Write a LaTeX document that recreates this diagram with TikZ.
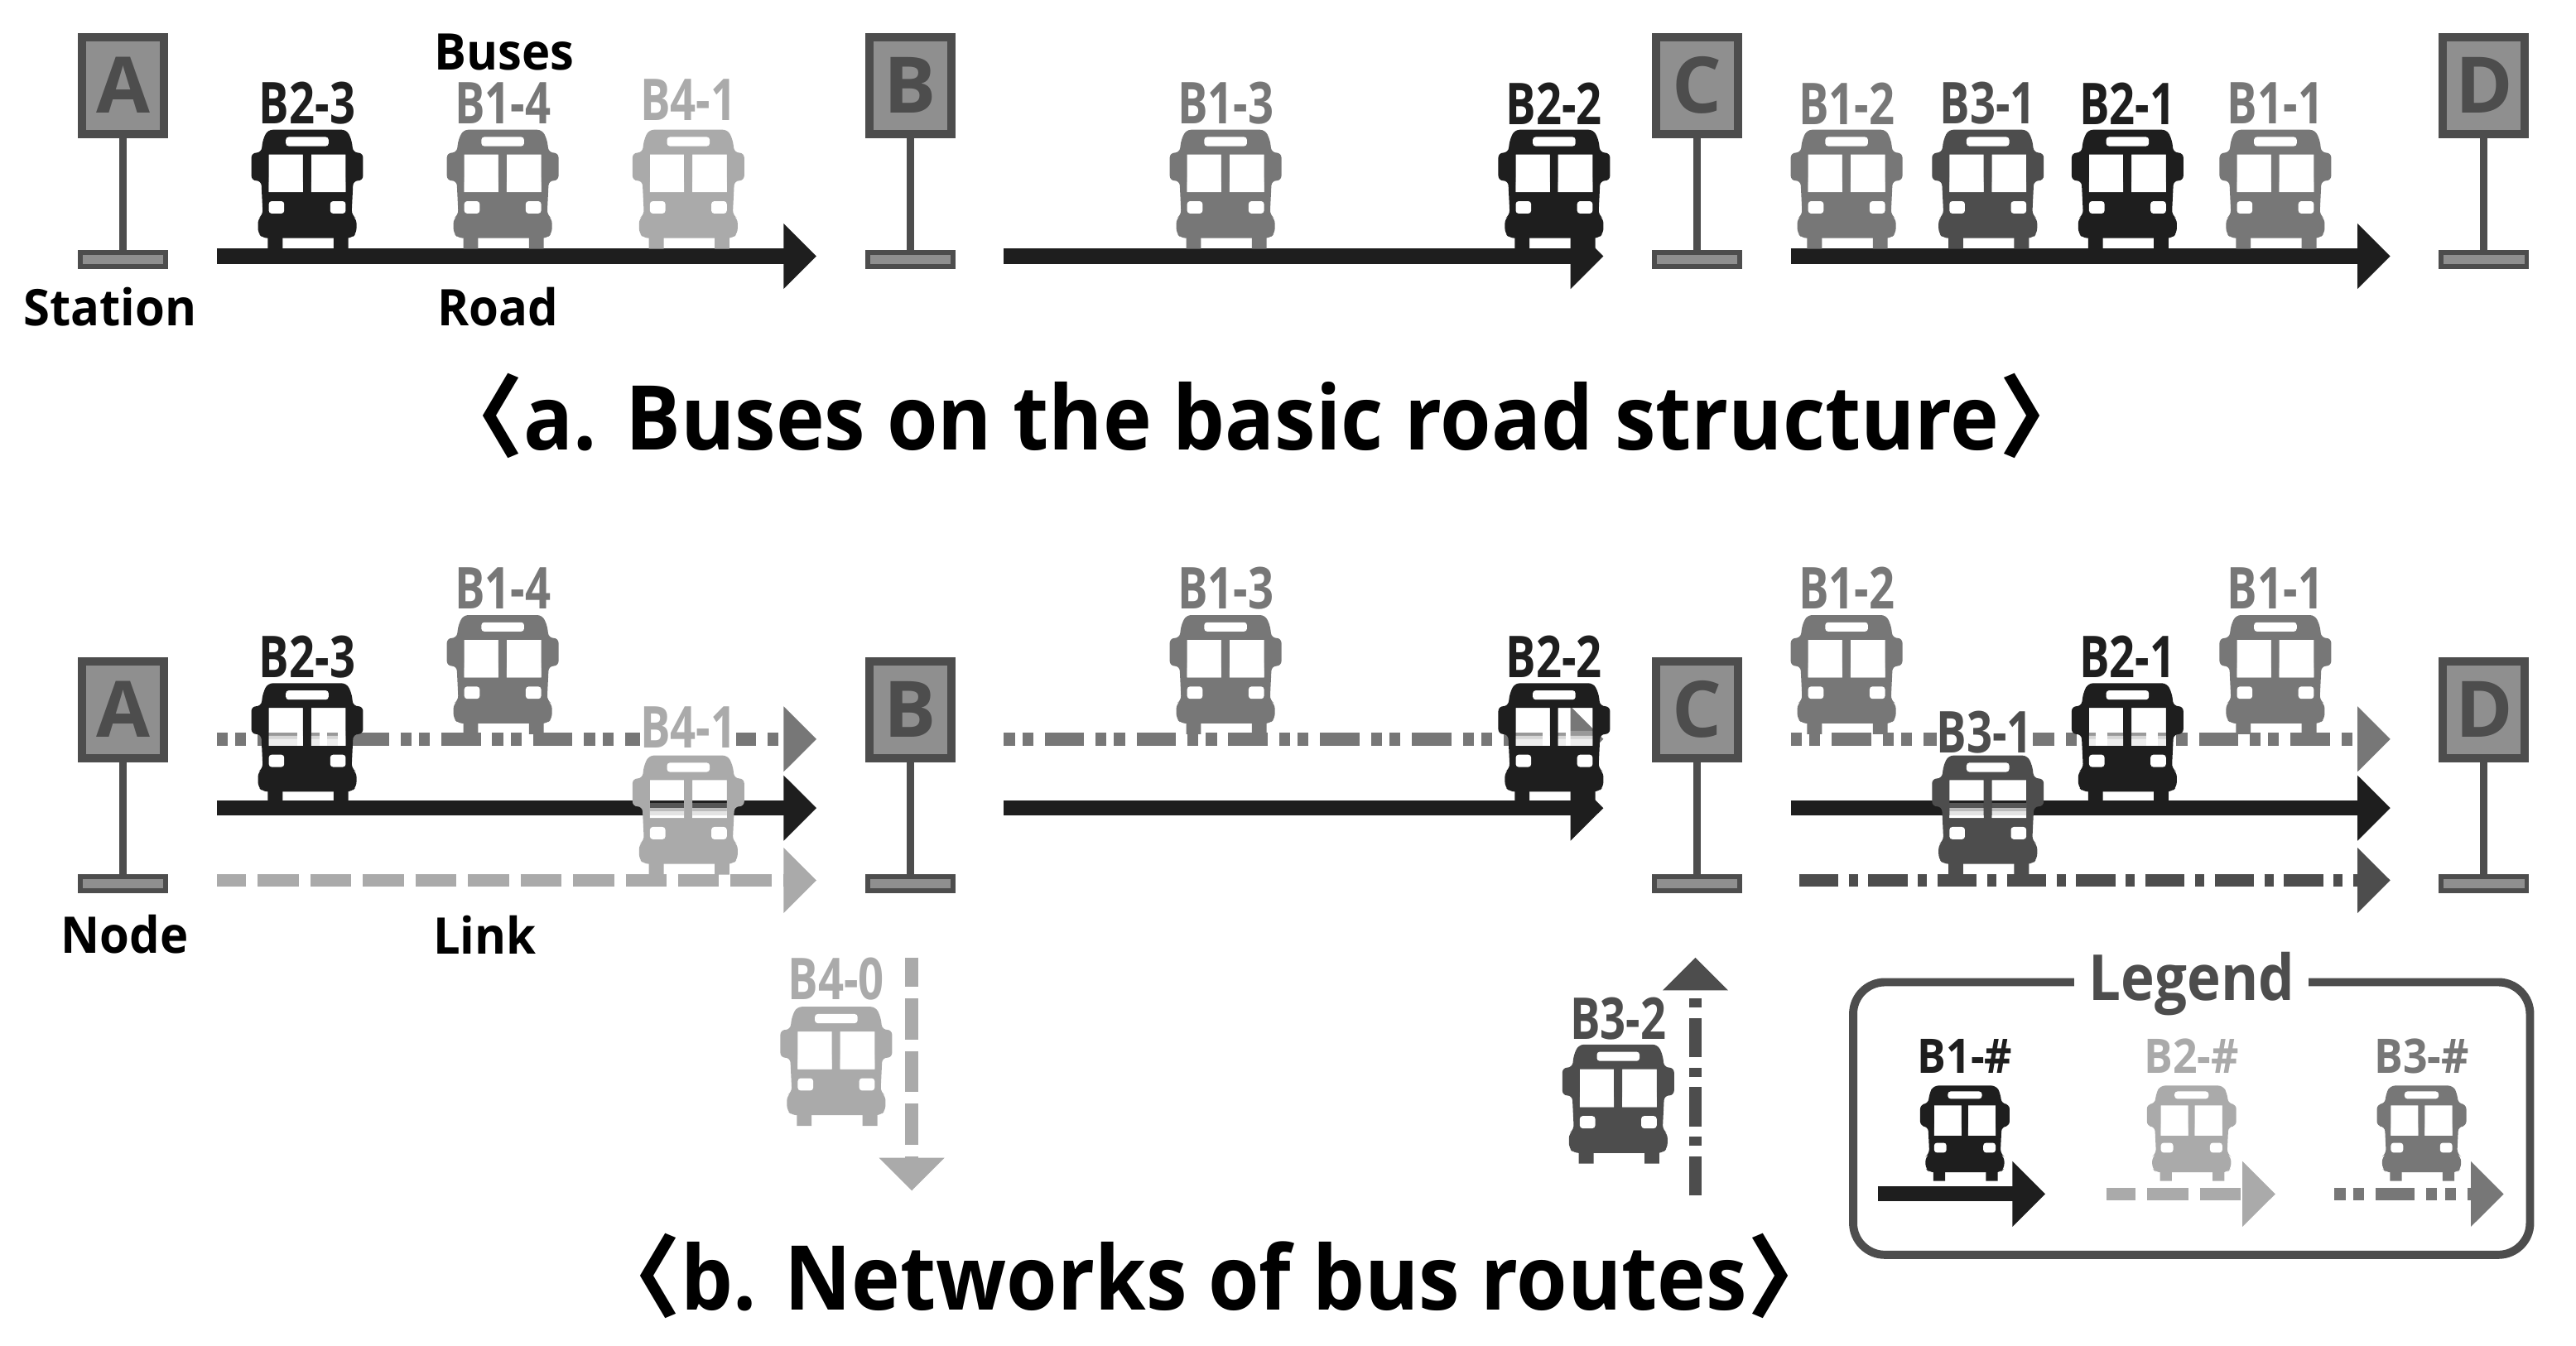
\documentclass[tikz,border=0pt]{standalone}
\usepackage{fontspec}
\setmainfont{Open Sans}
\newfontfamily\lblfont[FakeStretch=0.78]{Open Sans}
\newfontfamily\txtfont[FakeStretch=0.95]{Open Sans}
\newfontfamily\lgdfont[FakeStretch=0.9]{Open Sans}
\newfontfamily\capfont[FakeStretch=0.92]{Open Sans}
\newfontfamily\stopfont{Open Sans}
\newfontfamily\cjkfont{Noto Sans CJK KR}
\usetikzlibrary{arrows.meta}
\definecolor{cA}{HTML}{1E1E1E}
\definecolor{cB}{HTML}{777777}
\definecolor{cC}{HTML}{AAAAAA}
\definecolor{cD}{HTML}{4D4D4D}
\definecolor{cS}{HTML}{8F8F8F}
\tikzset{
  road/.style={line width=5.2pt,-{Triangle[length=11.4pt,width=22pt]}},
  routeA/.style={road,draw=cA},
  routeB/.style={road,line width=4.4pt,draw=cB,dash pattern=on 13.6pt off 4pt on 3.8pt off 2.6pt on 3.8pt off 4pt,dash phase=17.6pt},
  routeC/.style={road,line width=4.4pt,draw=cC,dash pattern=on 14.2pt off 4pt,dash phase=4pt},
  routeD/.style={road,line width=4.4pt,draw=cD,dash pattern=on 13.6pt off 3.6pt on 3.2pt off 3.6pt},
  stopbox/.style={draw=cD,fill=cS,line width=2.85pt,minimum width=28.4pt,minimum height=33.6pt,inner sep=0pt,text=cD,font=\stopfont\fontsize{27}{27}\selectfont\bfseries},
  stopbase/.style={draw=cD,fill=cS,line width=1.7pt,minimum width=29.6pt,minimum height=5.1pt,inner sep=0pt},
  stoppole/.style={draw=cD,line width=2.6pt},
  lbl/.style={inner sep=0pt,font=\lblfont\fontsize{20}{20}\selectfont\bfseries},
  lgdlbl/.style={inner sep=0pt,font=\lgdfont\fontsize{16.5}{17}\selectfont\bfseries},
  txt/.style={inner sep=0pt,font=\txtfont\fontsize{17.5}{18}\selectfont\bfseries},
  captxt/.style={inner sep=0pt,font=\capfont\fontsize{31}{34}\selectfont\bfseries},
}
% name, x1,y1,x2,y2, style
\newcommand{\routearrow}[6]{%
  \coordinate (#1-s) at (#2,#3);
  \coordinate (#1-e) at (#4,#5);
  \draw[#6] (#1-s) -- (#1-e);
}
% name, x, letter, top y
\newcommand{\stopsign}[4]{%
  \node[stopbox] (#1) at (#2,#4+32) {#3};
  \node[stopbase] (#1-base) at (#2,#4+138) {};
  \draw[stoppole] (#1.south) -- (#1-base.north);
}
% scale, cx, top, colour
\newcommand{\busicon}[4]{%
  \begin{scope}[shift={(#2,#3)},scale=#1]
    \fill[#4,even odd rule,rounded corners=1.7pt]
      (-24,0) -- (24,0) -- (27,6) -- (28,14) -- (34,14) -- (34,31) -- (28,31) -- (27,52)
      -- (30,54) -- (30,63) -- (27,66) -- (-27,66) -- (-30,63) -- (-30,54) -- (-27,52)
      -- (-28,31) -- (-34,31) -- (-34,14) -- (-28,14) -- (-27,6) -- cycle
      [sharp corners] (-23.4,15) rectangle (-2.6,38) (2.4,15) rectangle (23.4,38);
    \fill[#4] (-24,65) rectangle (-15,72.5) (16,65) rectangle (25,72.5);
    \fill[white,rounded corners=1pt] (-13,4.4) rectangle (13,10);
    \fill[white,rounded corners=1pt] (-23.4,43.5) rectangle (-14,51) (14,43.5) rectangle (23.4,51);
    \fill[white,opacity=.25] (-23.4,29) rectangle (-2.6,32) (2.4,29) rectangle (23.4,32);
    \fill[white,opacity=.7] (-23.4,32) rectangle (-2.6,34) (2.4,32) rectangle (23.4,34);
    \fill[white,opacity=.88] (-23.4,34) rectangle (-2.6,38) (2.4,34) rectangle (23.4,38);
  \end{scope}
}
% name, cx, top, colour, text, label y
\newcommand{\busat}[6]{%
  \busicon{1}{#2}{#3}{#4}
  \node[lbl,text=#4] (#1) at (#2,#6) {#5};
}
\begin{document}
\begin{tikzpicture}[x=0.02cm,y=-0.02cm]
\useasboundingbox (0,0) rectangle (1568,819.5);

% ---- part a
\routearrow{ra1}{132}{156}{497}{156}{routeA}
\routearrow{ra2}{611}{156}{976}{156}{routeA}
\routearrow{ra3}{1090}{156}{1455}{156}{routeA}
\stopsign{sa}{75}{A}{20}
\stopsign{sb}{554}{B}{20}
\stopsign{sc}{1033}{C}{20}
\stopsign{sd}{1512}{D}{20}
\busat{a23}{187}{79}{cA}{B2-3}{63}
\busat{a14}{306}{79}{cB}{B1-4}{63}
\busat{a41}{419}{79}{cC}{B4-1}{61}
\busat{a13}{746}{79}{cB}{B1-3}{63}
\busat{a22}{946}{79}{cA}{B2-2}{63}
\busat{a12}{1124}{79}{cB}{B1-2}{63}
\busat{a31}{1210}{79}{cD}{B3-1}{63}
\busat{a21}{1295}{79}{cA}{B2-1}{63}
\busat{a11}{1385}{79}{cB}{B1-1}{63}
\node[txt] (buses) at (307,32) {Buses};
\node[txt] (station) at (67,187) {Station};
\node[txt] (roadlbl) at (303,187) {Road};
\node[captxt] (capa) at (768,253) {{\cjkfont 〈}a. Buses on the basic road structure{\cjkfont 〉}};

% ---- part b
\routearrow{b1}{132}{450}{497}{450}{routeB}
\routearrow{b2}{132}{492}{497}{492}{routeA}
\routearrow{b3}{132}{536}{497}{536}{routeC}
\routearrow{b4}{611}{450}{976}{450}{routeB}
\routearrow{b5}{611}{492}{976}{492}{routeA}
\routearrow{b6}{1090}{450}{1455}{450}{routeB}
\routearrow{b7}{1090}{492}{1455}{492}{routeA}
\routearrow{b8}{1095}{536}{1455}{536}{routeD}
\routearrow{b9}{555}{583}{555}{725}{routeC}
\routearrow{b10}{1032}{728}{1032}{583}{routeD}
\stopsign{na}{75}{A}{400}
\stopsign{nb}{554}{B}{400}
\stopsign{nc}{1033}{C}{400}
\stopsign{nd}{1512}{D}{400}
\busat{b14}{306}{374.5}{cB}{B1-4}{358}
\busat{b23}{187}{416}{cA}{B2-3}{400}
\busicon{1}{419}{460}{cC}
\node[lbl,text=cC,fill=white] (b41) at (419,443) {B4-1};
\busat{b13}{746}{374.5}{cB}{B1-3}{358}
\busat{b22}{946}{416}{cA}{B2-2}{400}
\busat{b12}{1124}{374.5}{cB}{B1-2}{358}
\busat{b21}{1295}{416}{cA}{B2-1}{400}
\busat{b11}{1385}{374.5}{cB}{B1-1}{358}
\busicon{1}{1210}{460}{cD}
\node[lbl,text=cD,fill=white] (b31) at (1208,446) {B3-1};
\busat{b40}{509}{613}{cC}{B4-0}{596}
\busat{b32}{985}{636}{cD}{B3-2}{620}
\node[txt] (nodelbl) at (76,569) {Node};
\node[txt] (linklbl) at (295,569) {Link};
\node[captxt] (capb) at (739,777) {{\cjkfont 〈}b. Networks of bus routes{\cjkfont 〉}};

% ---- legend
\draw[draw=cD,line width=2.85pt,rounded corners=11pt] (1128,598) rectangle (1540,764);
\node[txt,text=cD,fill=white,inner xsep=5pt,inner ysep=2pt,font=\lgdfont\fontsize{22}{23}\selectfont\bfseries] (legend) at (1334,599) {Legend};
\busicon{.8}{1196}{661}{cA}
\node[lgdlbl,text=cA] (l1) at (1196,643) {B1-\#};
\busicon{.8}{1334}{661}{cC}
\node[lgdlbl,text=cC] (l2) at (1334,643) {B2-\#};
\busicon{.8}{1474}{661}{cB}
\node[lgdlbl,text=cB] (l3) at (1474,643) {B3-\#};
\routearrow{la}{1143}{727}{1245}{727}{routeA}
\routearrow{lb}{1282}{727}{1385}{727}{routeC}
\routearrow{lc}{1421}{727}{1524}{727}{routeB}
\end{tikzpicture}
\end{document}
